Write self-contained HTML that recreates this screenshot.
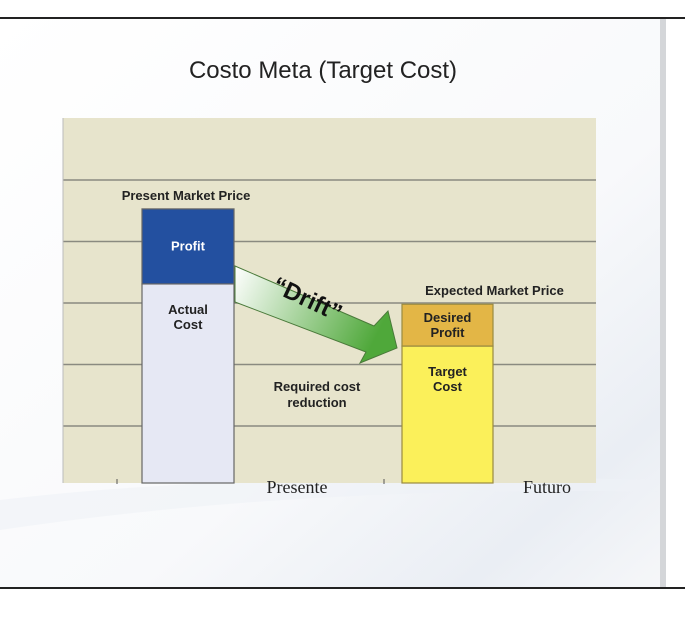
<!DOCTYPE html>
<html><head><meta charset="utf-8"><style>
body{margin:0;width:685px;height:621px;overflow:hidden;background:#fff;font-family:"Liberation Sans",sans-serif}
</style></head><body>
<svg width="685" height="621" viewBox="0 0 685 621">
<defs>
<linearGradient id="bg" x1="0" y1="0" x2="1" y2="1">
<stop offset="0" stop-color="#ffffff"/><stop offset="0.6" stop-color="#f8f9fb"/><stop offset="0.85" stop-color="#eaeef4"/><stop offset="1" stop-color="#f6f7f9"/></linearGradient>
<linearGradient id="arr" x1="0" y1="0" x2="1" y2="0.3">
<stop offset="0" stop-color="#ffffff"/><stop offset="1" stop-color="#4fa83a"/></linearGradient>
</defs>
<rect x="0" y="18" width="662" height="570" fill="url(#bg)"/>
<path d="M0 500 Q250 470 660 480 L660 492 Q300 485 0 530Z" fill="#eef1f6" opacity="0.6"/>
<rect x="660" y="18" width="6" height="570" fill="#d4d6d9"/>
<line x1="0" y1="18" x2="685" y2="18" stroke="#222" stroke-width="2"/>
<line x1="0" y1="588" x2="685" y2="588" stroke="#222" stroke-width="2"/>
<text x="323" y="78" text-anchor="middle" font-size="24" fill="#222">Costo Meta (Target Cost)</text>
<g id="chart"></g>
</svg>
<script>
const gridValues=[1,2,3,4,5];
const barNames=["present","future"];
const costValues=[3.31,2.30];
const profitValues=[1.22,0.68];
const costLabels=[["Actual","Cost"],["Target","Cost"]];
const profitLabels=[["Profit"],["Desired","Profit"]];
const priceLabels=["Present Market Price","Expected Market Price"];
const xLabels=["Presente","Futuro"];

const NS="http://www.w3.org/2000/svg";
const g=document.getElementById('chart');
const X0=63,X1=596,Y0=487.5,YB=483,Y1=118,U=61.5;
const y=v=>Y0-v*U;
const barX=[142,402],barW=[92,91];
const costFill=["#e6e8f4","#fbf05a"],profitFill=["#2350a0","#e3b646"],profitText=["#fff","#222"],barStroke=["#666","#9a8a40"];
const xLabelX=[297,547];
function el(t,a,p){const e=document.createElementNS(NS,t);for(const k in a)e.setAttribute(k,a[k]);(p||g).appendChild(e);return e;}
let r=el('rect',{x:X0,y:Y1,width:X1-X0,height:YB-Y1,fill:"#e7e4cc"});


gridValues.forEach(v=>{const l=el('line',{x1:X0,x2:X1,y1:y(v),y2:y(v),stroke:"#8a8a80","stroke-width":1.5});

});
el('line',{x1:X0,x2:X0,y1:Y1,y2:YB,stroke:"#bbb"});
barNames.forEach((n,i)=>{
 const c=el('rect',{x:barX[i],y:y(costValues[i]),width:barW[i],height:YB-y(costValues[i]),fill:costFill[i],stroke:barStroke[i],"stroke-width":1.2});
 
 
 const top=costValues[i]+profitValues[i];
 const p=el('rect',{x:barX[i],y:y(top),width:barW[i],height:profitValues[i]*U,fill:profitFill[i],stroke:barStroke[i],"stroke-width":1.2});
 
 
 const cx=barX[i]+barW[i]/2;
 const pl=profitLabels[i],py=y(top)+profitValues[i]*U/2-(pl.length-1)*7+4;
 pl.forEach((s,k)=>{const t=el('text',{x:cx,y:py+k*15,"text-anchor":"middle","font-size":13,"font-weight":"bold",fill:profitText[i]});t.textContent=s;
 
 });
 costLabels[i].forEach((s,k)=>{const t=el('text',{x:cx,y:y(costValues[i])+30+k*15,"text-anchor":"middle","font-size":13,"font-weight":"bold",fill:"#222"});t.textContent=s;
 
 });
 const pt=el('text',{x:cx+(i?47:-2),y:y(top)-9,"text-anchor":"middle","font-size":13,"font-weight":"bold",fill:"#222"});pt.textContent=priceLabels[i];
 
 
 const xl=el('text',{x:xLabelX[i],y:493,"text-anchor":"middle","font-size":18,"font-family":"Liberation Serif, serif",fill:"#222"});xl.textContent=xLabels[i];
 
 
});
const ar=el('polygon',{points:"235,266 374,326 388,311 397,348 360,363 366,352 235,302",fill:"url(#arr)",stroke:"#4a7a3a","stroke-width":1});


const dt=el('text',{x:307,y:307,"text-anchor":"middle","font-size":24,"font-weight":"bold",fill:"#111",transform:"rotate(25 307 300)"});dt.textContent="“Drift”";


["Required cost","reduction"].forEach((s,k)=>{const t=el('text',{x:317,y:391+k*16,"text-anchor":"middle","font-size":13,"font-weight":"bold",fill:"#222"});t.textContent=s;

});
[117,384].forEach(x=>{const l=el('line',{x1:x,x2:x,y1:479,y2:484,stroke:"#555"});

});
</script>
</body></html>
